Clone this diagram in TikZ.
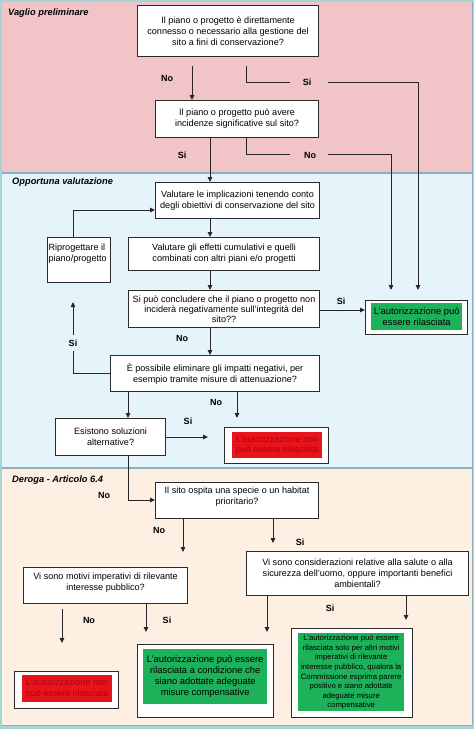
\documentclass[tikz,border=0pt]{standalone}
\usepackage{fontspec}
\setmainfont{Liberation Sans}
\usetikzlibrary{calc,arrows.meta}
\definecolor{frame}{HTML}{A6D6D3}
\definecolor{pinkbg}{HTML}{F1C5C8}
\definecolor{bluebg}{HTML}{E4F4FA}
\definecolor{peachbg}{HTML}{FDF0E3}
\definecolor{sepline}{HTML}{8FAFBE}
\definecolor{okgreen}{HTML}{1DB15A}
\definecolor{nored}{HTML}{E8141B}
\definecolor{notext}{HTML}{B00010}
\definecolor{boxline}{HTML}{2A2A2A}
\tikzset{
  box/.style={draw=boxline, line width=1.1pt, fill=white, anchor=north west, inner sep=0pt, align=center, font=\fontsize{9.1}{11}\selectfont},
  txt/.style={inner sep=0pt, align=center, font=\fontsize{9.1}{11.5}\selectfont},
  outerbox/.style={draw=boxline, line width=1.1pt, fill=white, anchor=north west, inner sep=0pt},
  greenfill/.style={fill=okgreen, anchor=north west, inner sep=0pt, align=center, font=\fontsize{9.4}{11}\selectfont},
  redfill/.style={fill=nored, anchor=north west, inner sep=0pt, align=center, text=notext, font=\fontsize{9}{10.8}\selectfont},
  conn/.style={draw=black!85, line width=1pt},
  arr/.style={conn, -{Triangle[length=5pt,width=4.5pt]}},
  lbl/.style={font=\fontsize{9}{10}\selectfont\bfseries, inner sep=0pt},
  sect/.style={font=\fontsize{9.3}{11}\selectfont\bfseries\itshape, anchor=west, inner sep=0pt},
}
\begin{document}
\begin{tikzpicture}[x=1pt,y=-1pt]
\useasboundingbox (0,0) rectangle (474,729);
% background bands
\fill[frame] (0,0) rectangle (474,729);
\fill[pinkbg] (2,2) rectangle (472,172);
\fill[bluebg] (2,174) rectangle (472,467);
\fill[peachbg] (2,469) rectangle (472,725);
\draw[sepline, line width=1.2pt] (2,173) -- (472,173);
\draw[sepline, line width=1.2pt] (2,468) -- (472,468);
\draw[sepline, line width=0.8pt] (472.5,2) -- (472.5,725);
\draw[sepline, line width=1.2pt] (2,725.5) -- (472,725.5);
% section titles
\node[sect] (t1) at (8,13) {Vaglio preliminare};
\node[sect] (t2) at (12,182) {Opportuna valutazione};
\node[sect] (t3) at (12,480) {Deroga - Articolo 6.4};
% boxes
\node[box, minimum width=181pt, minimum height=51pt] (A) at (137,5) {Il piano o progetto è direttamente\\connesso o necessario alla gestione del\\sito a fini di conservazione?};
\node[box, minimum width=163pt, minimum height=37pt] (B) at (155,100) {Il piano o progetto può avere\\incidenze significative sul sito?};
\node[box, minimum width=164pt, minimum height=36pt] (C) at (155,182) {Valutare le implicazioni tenendo conto\\degli obiettivi di conservazione del sito};
\node[box, minimum width=191pt, minimum height=33pt] (D) at (128,237) {Valutare gli effetti cumulativi e quelli\\combinati con altri piani e/o progetti};
\node[box, minimum width=191pt, minimum height=37pt, font=\fontsize{9.1}{10.2}\selectfont] (E) at (128,290) {Si può concludere che il piano o progetto non\\inciderà negativamente sull'integrità del\\sito??};
\node[box, minimum width=63pt, minimum height=45pt, anchor=north west] (R) at (47,237) {\begin{minipage}[t][37pt][t]{61pt}\vspace*{2pt}\raggedright Riprogettare il\\piano/progetto\end{minipage}};
\node[box, minimum width=209pt, minimum height=36pt] (F) at (110,355) {È possibile eliminare gli impatti negativi, per\\esempio tramite misure di attenuazione?};
\node[box, minimum width=110pt, minimum height=37pt] (G) at (55,418) {Esistono soluzioni\\alternative?};
% outcome boxes (mid)
\node[outerbox, minimum width=102pt, minimum height=34pt] (G1o) at (365,300) {};
\node[greenfill, minimum width=91pt, minimum height=27pt] (G1) at (371,303) {L'autorizzazione può\\essere rilasciata};
\node[outerbox, minimum width=104pt, minimum height=36pt] (H1o) at (224,427) {};
\node[redfill, minimum width=90pt, minimum height=26pt] (H1) at (232,432) {L'autorizzazione non\\può essere rilasciata};
% deroga
\node[box, minimum width=163pt, minimum height=36pt] (I) at (155,482) {};
\node[txt] (Itxt) at ($(I.center)+(0,-4)$) {Il sito ospita una specie o un habitat\\prioritario?};
\node[box, minimum width=164pt, minimum height=36pt] (J) at (23,567) {};
\node[txt] (Jtxt) at ($(J.center)+(0,-3)$) {Vi sono motivi imperativi di rilevante\\interesse pubblico?};
\node[box, minimum width=222pt, minimum height=44pt] (K) at (246,551) {Vi sono considerazioni relative alla salute o alla\\sicurezza dell'uomo, oppure importanti benefici\\ambientali?};
\node[outerbox, minimum width=104pt, minimum height=37pt] (Lo) at (14,671) {};
\node[redfill, minimum width=90pt, minimum height=27pt] (L) at (22,675) {L'autorizzazione non\\può essere rilasciata};
\node[outerbox, minimum width=136pt, minimum height=73pt] (Mo) at (137,644) {};
\node[greenfill, minimum width=124pt, minimum height=55pt, font=\fontsize{9.4}{10.8}\selectfont] (M) at (143,649) {L'autorizzazione può essere\\rilasciata a condizione che\\siano adottate adeguate\\misure compensative};
\node[outerbox, minimum width=121pt, minimum height=89pt] (No) at (291,628) {};
\node[greenfill, minimum width=106pt, minimum height=78pt, font=\fontsize{7.7}{9.6}\selectfont] (N) at (298,633) {L'autorizzazione può essere\\rilasciata solo per altri motivi\\imperativi di rilevante\\interesse pubblico, qualora la\\Commissione esprima parere\\positivo e siano adottate\\adeguate misure\\compensative};
% connectors: screening
\draw[arr] ($(A.south west)+(55,9)$) -- ($(B.north west)+(37,0)$);
\node[lbl] (lNo1) at (167,78) {No};
\draw[conn] ($(A.south west)+(109,9)$) |- (290,82);
\node[lbl] (lSi1) at (307,82) {Si};
\draw[arr] (328,82) -| ($(G1o.north west)+(53,-10)$);
\draw[arr] ($(B.south west)+(55,0)$) -- ($(C.north west)+(55,0)$);
\node[lbl] (lSi2) at (182,155) {Si};
\draw[conn] ($(B.south west)+(91,0)$) |- (290,154);
\node[lbl] (lNo2) at (310,155) {No};
\draw[arr] (328,154) -| ($(G1o.north west)+(26,-10)$);
% appropriate assessment
\draw[arr] ($(C.south west)+(55,0)$) -- ($(D.north west)+(82,0)$);
\draw[arr] ($(D.south west)+(82,0)$) -- ($(E.north west)+(82,0)$);
\draw[arr] ($(E.north east)+(0,20)$) -- ($(G1o.north west)+(0,10)$);
\node[lbl] (lSi3) at (341,301) {Si};
\draw[arr] ($(E.south west)+(82,0)$) -- ($(F.north west)+(100,0)$);
\node[lbl] (lNo3) at (182,338) {No};
\draw[arr] ($(F.north west)+(0,18)$) -| ($(R.south west)+(26,19)$);
\node[lbl, fill=bluebg, inner ysep=5pt, inner xsep=1pt] (lSi4) at (73,343) {Si};
\draw[arr] ($(R.north west)+(26,0)$) |- ($(C.north west)+(0,28)$);
\draw[arr] ($(F.south west)+(18,0)$) -- ($(G.north west)+(73,0)$);
\draw[arr] ($(F.south west)+(127,0)$) -- ($(H1o.north west)+(13,-9)$);
\node[lbl] (lNo4) at (216,402) {No};
\draw[arr] ($(G.north east)+(0,19)$) -- ($(H1o.north west)+(-16,10)$);
\node[lbl] (lSi5) at (188,421) {Si};
% deroga
\draw[arr] ($(G.south west)+(73,0)$) |- ($(I.north west)+(0,18)$);
\node[lbl] (lNo5) at (104,495) {No};
\draw[arr] ($(I.south west)+(28,0)$) -- ($(J.north west)+(160,-15)$);
\node[lbl] (lNo6) at (159,530) {No};
\draw[arr] ($(I.south west)+(118,0)$) -- ($(K.north west)+(27,-8)$);
\node[lbl] (lSi6) at (300,542) {Si};
\draw[arr] ($(J.south west)+(39,5)$) -- ($(Lo.north west)+(48,-28)$);
\node[lbl] (lNo7) at (89,620) {No};
\draw[arr] ($(J.south west)+(123,0)$) -- ($(Mo.north west)+(9,-12)$);
\node[lbl] (lSi7) at (167,620) {Si};
\draw[arr] ($(K.south west)+(21,0)$) -- ($(Mo.north west)+(130,-12)$);
\draw[arr] ($(K.south west)+(160,0)$) -- ($(No.north west)+(115,-8)$);
\node[lbl] (lSi8) at (330,608) {Si};
\end{tikzpicture}
\end{document}
